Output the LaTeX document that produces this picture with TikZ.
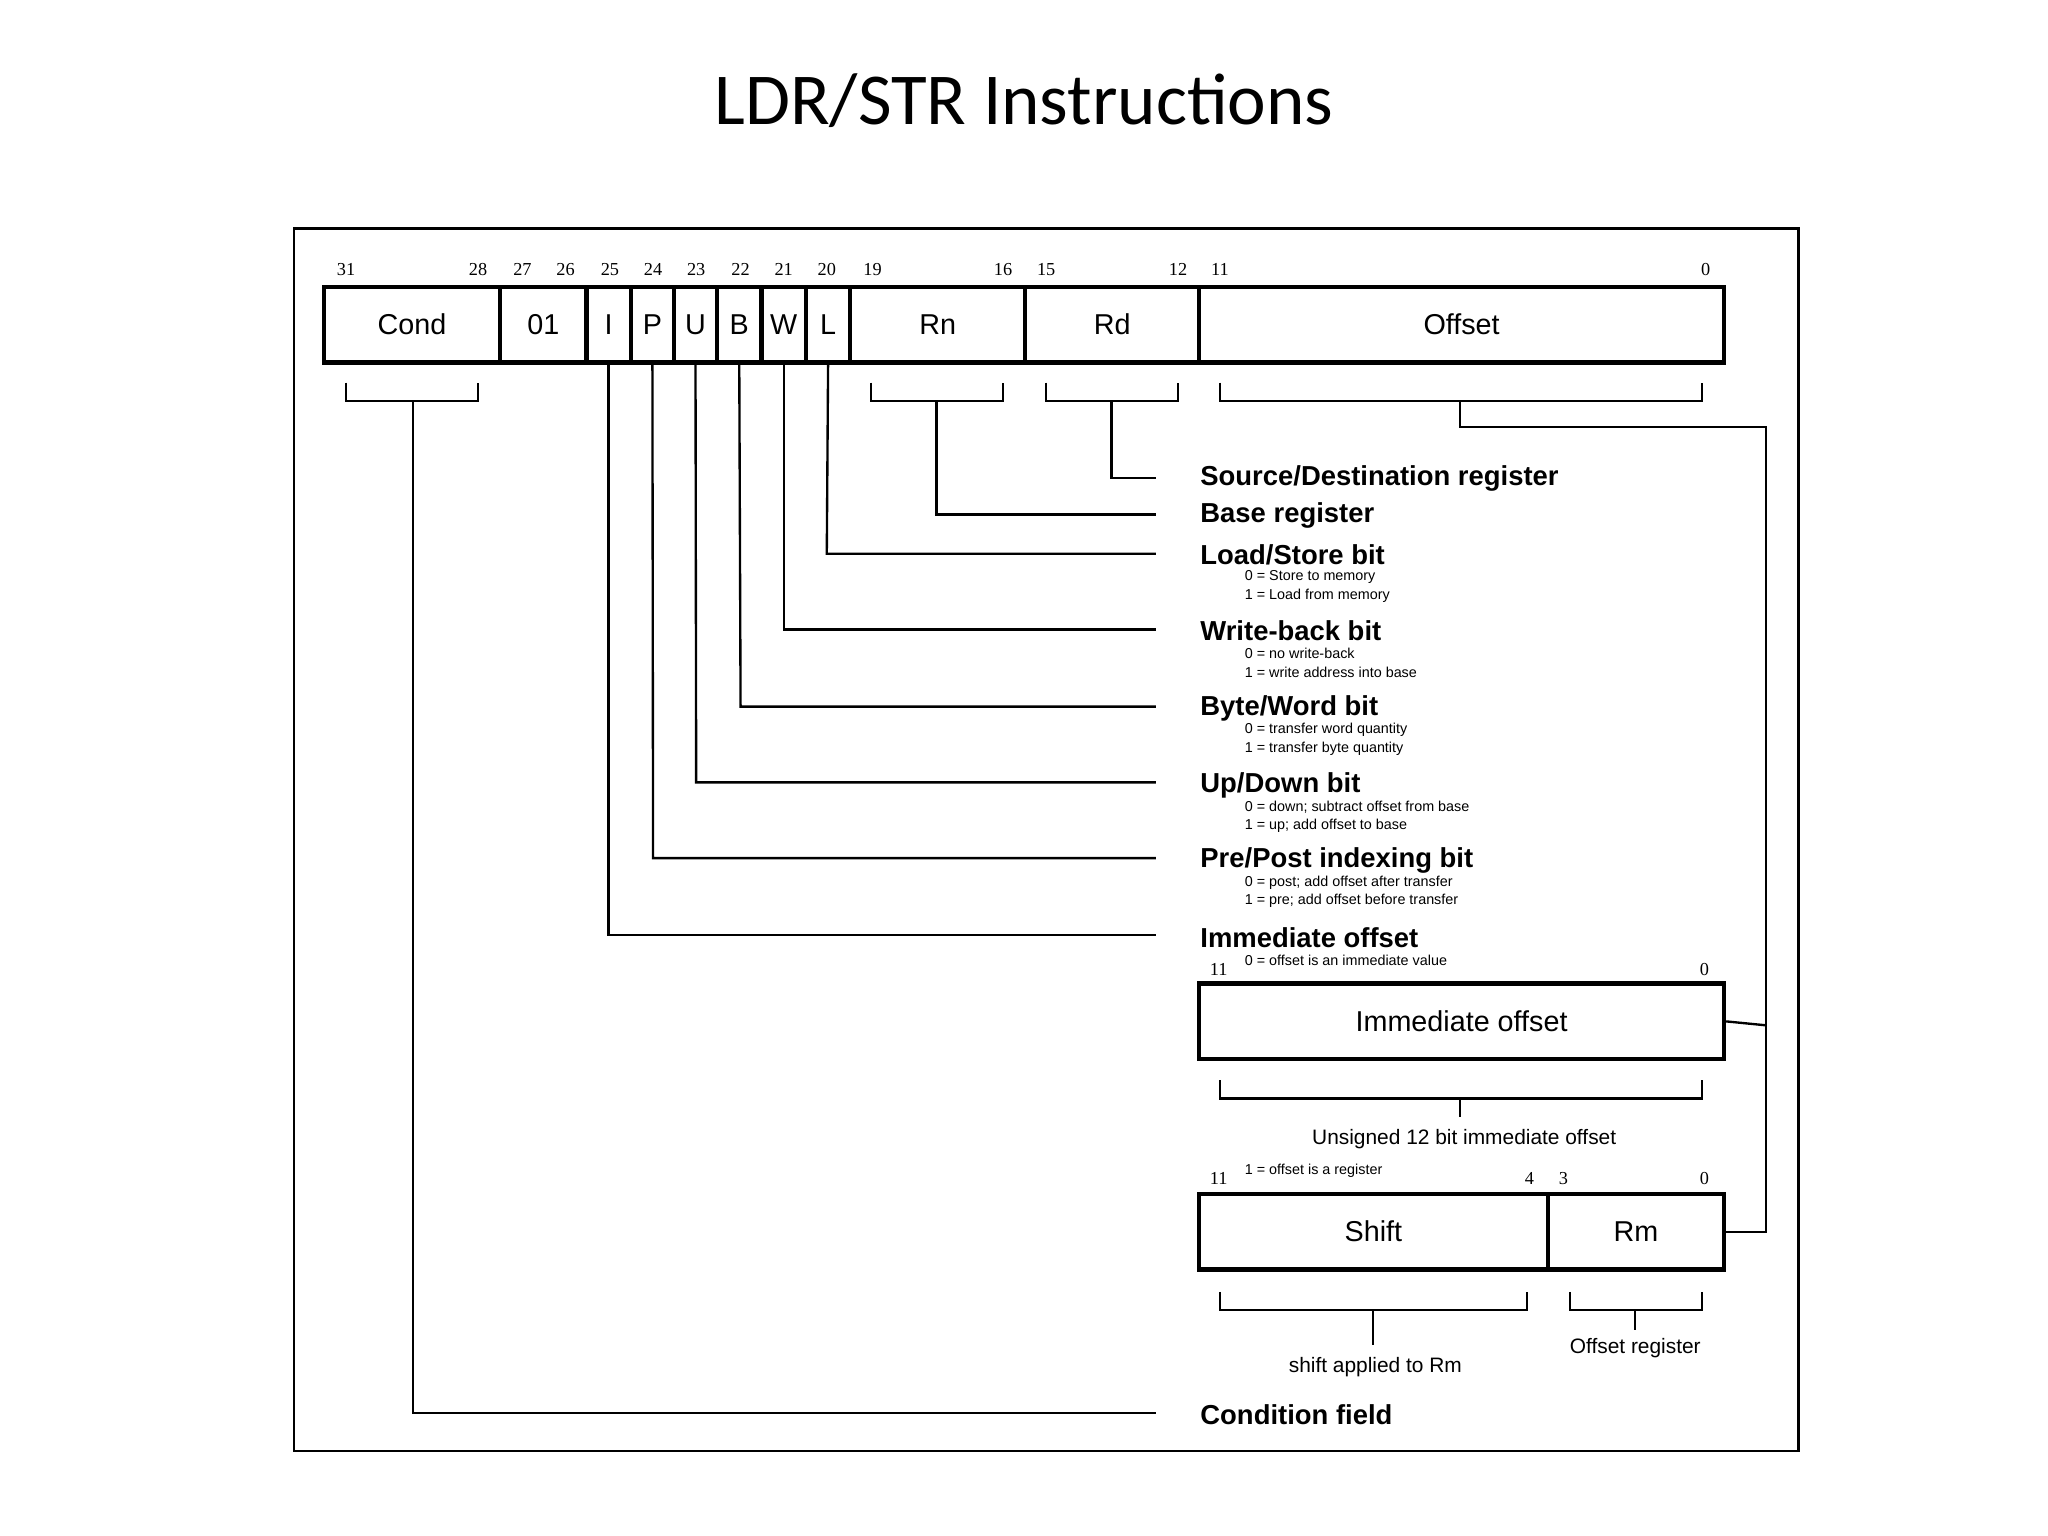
\documentclass[tikz,border=0pt]{standalone}
\usepackage{fontspec}
\setmainfont{Liberation Sans}
\newfontfamily\titlefont{Carlito}
\newfontfamily\numfont{Liberation Serif}
\begin{document}
\begin{tikzpicture}[x=0.5pt,y=-0.5pt,
  box/.style={draw,line width=1.6pt},
  ln/.style={line width=0.9pt},
  fld/.style={font=\fontsize{11}{13}\selectfont},
  bit/.style={font=\numfont\fontsize{7}{8}\selectfont},
  lab/.style={anchor=west,font=\bfseries\fontsize{10.5}{12}\selectfont},
  sub/.style={anchor=west,font=\fontsize{5.5}{6}\selectfont},
  note/.style={font=\fontsize{8}{9}\selectfont}]
\useasboundingbox (0,0) rectangle (1568,1176);
\node[font=\titlefont\fontsize{28}{32}\selectfont] (title) at (784,77) {LDR/STR Instructions};
\draw[line width=1pt] (225,175) rectangle (1377,1111);
% top register
\foreach \a/\b/\t/\n in {248/383/Cond/f1,383/449/01/f2,449/483/I/f3,483/516/P/f4,516/549/U/f5,549/583/B/f6,583/617/W/f7,617/651/L/f8,651/785/Rn/f9,785/918/Rd/f10,918/1320/Offset/f11}
  \node[box,fld,minimum height=29pt,minimum width={(\b-\a)*0.5pt},inner sep=0pt] (\n) at ({(\a+\b)/2},248.5) {\t};
\foreach \x/\t in {265/31,366/28,400/27,433/26,467/25,500/24,533/23,567/22,600/21,633/20,668/19,768/16,801/15,902/12,934/11,1306/0}
  \node[bit] at (\x,206) {\t};
% brackets
\foreach \a/\b/\y in {265/366/293,667/768/293,801/902/293,934/1303/293,934/1303/827,934/1169/989,1202/1303/989}
  \draw[ln] (\a,\y) -- (\a,\y+14) -- (\b,\y+14) -- (\b,\y);
% labels
\node[lab] (sd) at (912,366) {Source/Destination register};
\node[lab] (base) at (912,395) {Base register};
\node[lab] (ls) at (912,425) {Load/Store bit};
\node[sub] at (946,442) {0 = Store to memory};
\node[sub] at (946,456) {1 = Load from memory};
\node[lab] (wb) at (912,483) {Write-back bit};
\node[sub] at (946,500) {0 = no write-back};
\node[sub] at (946,515) {1 = write address into base};
\node[lab] (bw) at (912,542) {Byte/Word bit};
\node[sub] at (946,559) {0 = transfer word quantity};
\node[sub] at (946,573) {1 = transfer byte quantity};
\node[lab] (ud) at (912,601) {Up/Down bit};
\node[sub] at (946,618) {0 = down; subtract offset from base};
\node[sub] at (946,632) {1 = up; add offset to base};
\node[lab] (pp) at (912,659) {Pre/Post indexing bit};
\node[sub] at (946,676) {0 = post; add offset after transfer};
\node[sub] at (946,690) {1 = pre; add offset before transfer};
\node[lab] (imm) at (912,718) {Immediate offset};
\node[sub] at (946,735) {0 = offset is an immediate value};
\node[lab] (cf) at (912,1083) {Condition field};
% connectors
\draw[ln] (851,307) -- (851,366) -- (885,366);
\draw[ln] (717,307) -- (717,394) -- (885,394);
\draw[ln] (f8.south) -- (633,424) -- (885,424);
\draw[ln] (f7.south) -- (600,482) -- (885,482);
\draw[ln] (f6.south) -- (567,541) -- (885,541);
\draw[ln] (f5.south) -- (533,599) -- (885,599);
\draw[ln] (f4.south) -- (500,657) -- (885,657);
\draw[ln] (f3.south) -- (466,716) -- (885,716);
\draw[ln] (316,307) -- (316,1082) -- (885,1082);
% immediate box
\foreach \x/\t in {933/11,1305/0} \node[bit] at (\x,742) {\t};
\node[box,fld,minimum height=29pt,minimum width=201pt,inner sep=0pt] (ib) at (1119,782) {Immediate offset};
\draw[ln] (1118,841) -- (1118,855);
\node[note] (u12) at (1121,872) {Unsigned 12 bit immediate offset};
\node[sub] at (946,896) {1 = offset is a register};
\foreach \x/\t in {933/11,1171/4,1197/3,1305/0} \node[bit] at (\x,902) {\t};
\node[box,fld,minimum height=29pt,minimum width=133.5pt,inner sep=0pt] (sh) at (1051.5,943) {Shift};
\node[box,fld,minimum height=29pt,minimum width=67.5pt,inner sep=0pt] (rm) at (1252.5,943) {Rm};
\draw[ln] (1051,1003) -- (1051,1030);
\node[note] at (1053,1047) {shift applied to Rm};
\draw[ln] (1252,1003) -- (1252,1018);
\node[note] at (1252,1032) {Offset register};
% offset connector
\draw[ln] (1118,307) -- (1118,327) -- (1352,327) -- (1352,943) -- (rm.east);
\draw[ln] (1352,785) -- (ib.east);
\end{tikzpicture}
\end{document}
